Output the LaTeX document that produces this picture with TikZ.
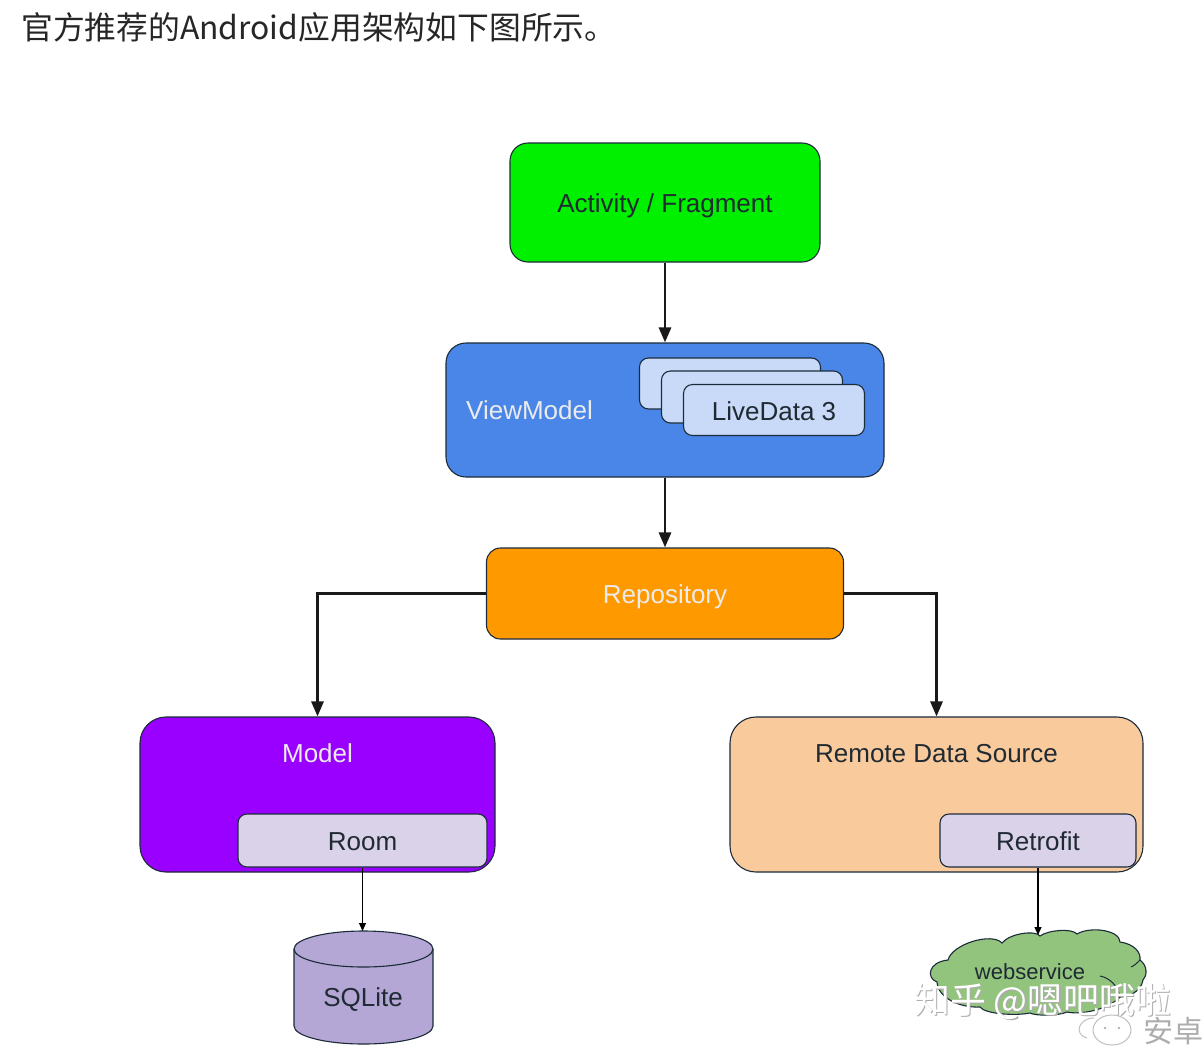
\documentclass[tikz,border=0pt]{standalone}
\usepackage{fontspec}
\setmainfont{Liberation Sans}
\newfontfamily\cjk{Noto Sans CJK SC}
\usetikzlibrary{arrows.meta,positioning}
\definecolor{linecol}{HTML}{1C2B3A}
\definecolor{cgreen}{HTML}{00F000}
\definecolor{cblue}{HTML}{4A86E8}
\definecolor{clight}{HTML}{C9DAF8}
\definecolor{corange}{HTML}{FF9900}
\definecolor{cpurple}{HTML}{9900FF}
\definecolor{croom}{HTML}{D9D2E9}
\definecolor{cpeach}{HTML}{F9CB9C}
\definecolor{csql}{HTML}{B4A7D6}
\definecolor{ccloud}{HTML}{93C47D}
\definecolor{txt}{HTML}{1F2A33}
\tikzset{
  x=1pt,y=-1pt,
  box/.style={draw=linecol,line width=1.1pt,rounded corners=#1,inner sep=0pt,anchor=center},
  box/.default=18pt,
  label/.style={font=\fontsize{26}{30}\selectfont,text=txt,inner sep=0pt},
  wlabel/.style={label,text=white!92!black},
  conn/.style={draw=black!90,line width=2.8pt,-{Triangle[length=15pt,width=12pt]}},
  thin conn/.style={draw=black,line width=1.2pt,-{Triangle[length=8pt,width=7pt]}},
  mark shadow/.style={font=\cjk\fontsize{35.8}{38}\selectfont,text=black!32,inner sep=0pt,anchor=west},
  mark top/.style={font=\cjk\fontsize{35.8}{38}\selectfont,text=white,inner sep=0pt,anchor=west},
}
\begin{document}
\begin{tikzpicture}
\useasboundingbox (0,0) rectangle (1204,1050);
\fill[white] (0,0) rectangle (1204,1050);

\node[font=\cjk\fontsize{31.8}{36}\selectfont,text=black!85,anchor=west,inner sep=0pt] (title) at (21,27) {官方推荐的Android应用架构如下图所示。};

% main boxes
\node[box=18pt,fill=cgreen,minimum width=310pt,minimum height=119pt] (activity) at (665,202.5) {};
\node[label] (activitytxt) at (665,206) {Activity / Fragment};

\node[box=20pt,fill=cblue,minimum width=438pt,minimum height=134pt] (viewmodel) at (665,410) {};
\node[wlabel,anchor=west] (vmtxt) at (466,410) {ViewModel};
\node[box=9pt,fill=clight,minimum width=181pt,minimum height=51pt] (ld1) at (730,383.5) {};
\node[box=9pt,fill=clight,minimum width=181pt,minimum height=52pt] (ld2) at (752,397) {};
\node[box=9pt,fill=clight,minimum width=181pt,minimum height=51pt] (ld3) at (774,410) {};
\node[label] (ld3txt) at (774,411) {LiveData 3};

\node[box=14pt,fill=corange,minimum width=357pt,minimum height=91pt] (repo) at (665,593.5) {};
\node[wlabel] (repotxt) at (665,597) {Repository};

\node[box=26pt,fill=cpurple,minimum width=355pt,minimum height=155pt] (model) at (317.5,794.5) {};
\node[wlabel] (modeltxt) at (317.5,753) {Model};
\node[box=9pt,fill=croom,minimum width=249pt,minimum height=53pt] (room) at (362.5,840.5) {};
\node[label] (roomtxt) at (362.5,842) {Room};

\node[box=26pt,fill=cpeach,minimum width=413pt,minimum height=155pt] (remote) at (936.5,794.5) {};
\node[label] (remotetxt) at (936.5,754) {Remote Data Source};
\node[box=9pt,fill=croom,minimum width=196pt,minimum height=53pt] (retrofit) at (1038,840.5) {};
\node[label] (retrofittxt) at (1038,841) {Retrofit};

% SQLite cylinder
\draw[draw=linecol,line width=1.1pt,fill=csql]
  (294,949) .. controls (294,939) and (325,931) .. (363.5,931)
  .. controls (402,931) and (433,939) .. (433,949)
  -- (433,1026)
  .. controls (433,1036) and (402,1044) .. (363.5,1044)
  .. controls (325,1044) and (294,1036) .. (294,1026) -- cycle;
\draw[linecol,line width=1.1pt] (294,949) .. controls (294,959) and (325,967) .. (363.5,967)
  .. controls (402,967) and (433,959) .. (433,949);
\coordinate (sqlitetop) at (362.5,931);
\node[label] (sqltxt) at (363,1000) {SQLite};

% cloud
\draw[draw=linecol,line width=1.1pt,fill=ccloud]
  (948,960) .. controls (952,944) and (992,932) .. (1002,943)
  .. controls (1010,933) and (1036,930) .. (1040,936)
  .. controls (1048,930) and (1072,928) .. (1077,934)
  .. controls (1090,926) and (1120,930) .. (1120,942)
  .. controls (1134,944) and (1141,952) .. (1140,960)
  .. controls (1148,966) and (1147,976) .. (1143,980)
  .. controls (1141,992) and (1128,997) .. (1120,997)
  .. controls (1108,1010) and (1080,1015) .. (1067,1012)
  .. controls (1058,1016) and (1036,1016) .. (1030,1013)
  .. controls (1015,1016) and (985,1014) .. (980,1007)
  .. controls (960,1008) and (938,998) .. (937,982)
  .. controls (926,978) and (928,962) .. (948,960) -- cycle;
\draw[linecol,line width=1pt] (1100,976) .. controls (1110,978) and (1118,986) .. (1120,997);
\draw[linecol,line width=1pt] (1131,967) .. controls (1134,966) and (1138,962) .. (1140,960);
\coordinate (cloudtop) at (1038,935);
\node[font=\fontsize{22}{26}\selectfont,text=txt,inner sep=0pt] (cloudtxt) at (1030,972) {webservice};

% connectors
\draw[conn] (activity) -- (viewmodel);
\draw[conn] (viewmodel) -- (repo);
\draw[conn] (repo.west) -| (model.north);
\draw[conn] (repo.east) -| (remote.north);
\draw[thin conn] (room) -- (sqlitetop);
\draw[thin conn] (retrofit) -- (cloudtop);

% watermark
\node[mark shadow] (wm1s) at (915.5,1002.5) {知乎 @嗯吧哦啦};
\node[mark top] (wm1) at (914,1001) {知乎 @嗯吧哦啦};
\draw[black!25,line width=1pt,fill=white] (1112,1030) ellipse [x radius=19pt,y radius=15pt];
\draw[black!25,line width=1pt] (1094,1018) .. controls (1079,1018) and (1073,1034) .. (1087,1038);
\fill[black!30] (1105,1028) circle (1.3pt) (1119,1028) circle (1.3pt);
\node[font=\cjk\fontsize{30}{34}\selectfont,text=black!32,inner sep=0pt,anchor=west] (wm2) at (1143,1031) {安卓};
\end{tikzpicture}
\end{document}
